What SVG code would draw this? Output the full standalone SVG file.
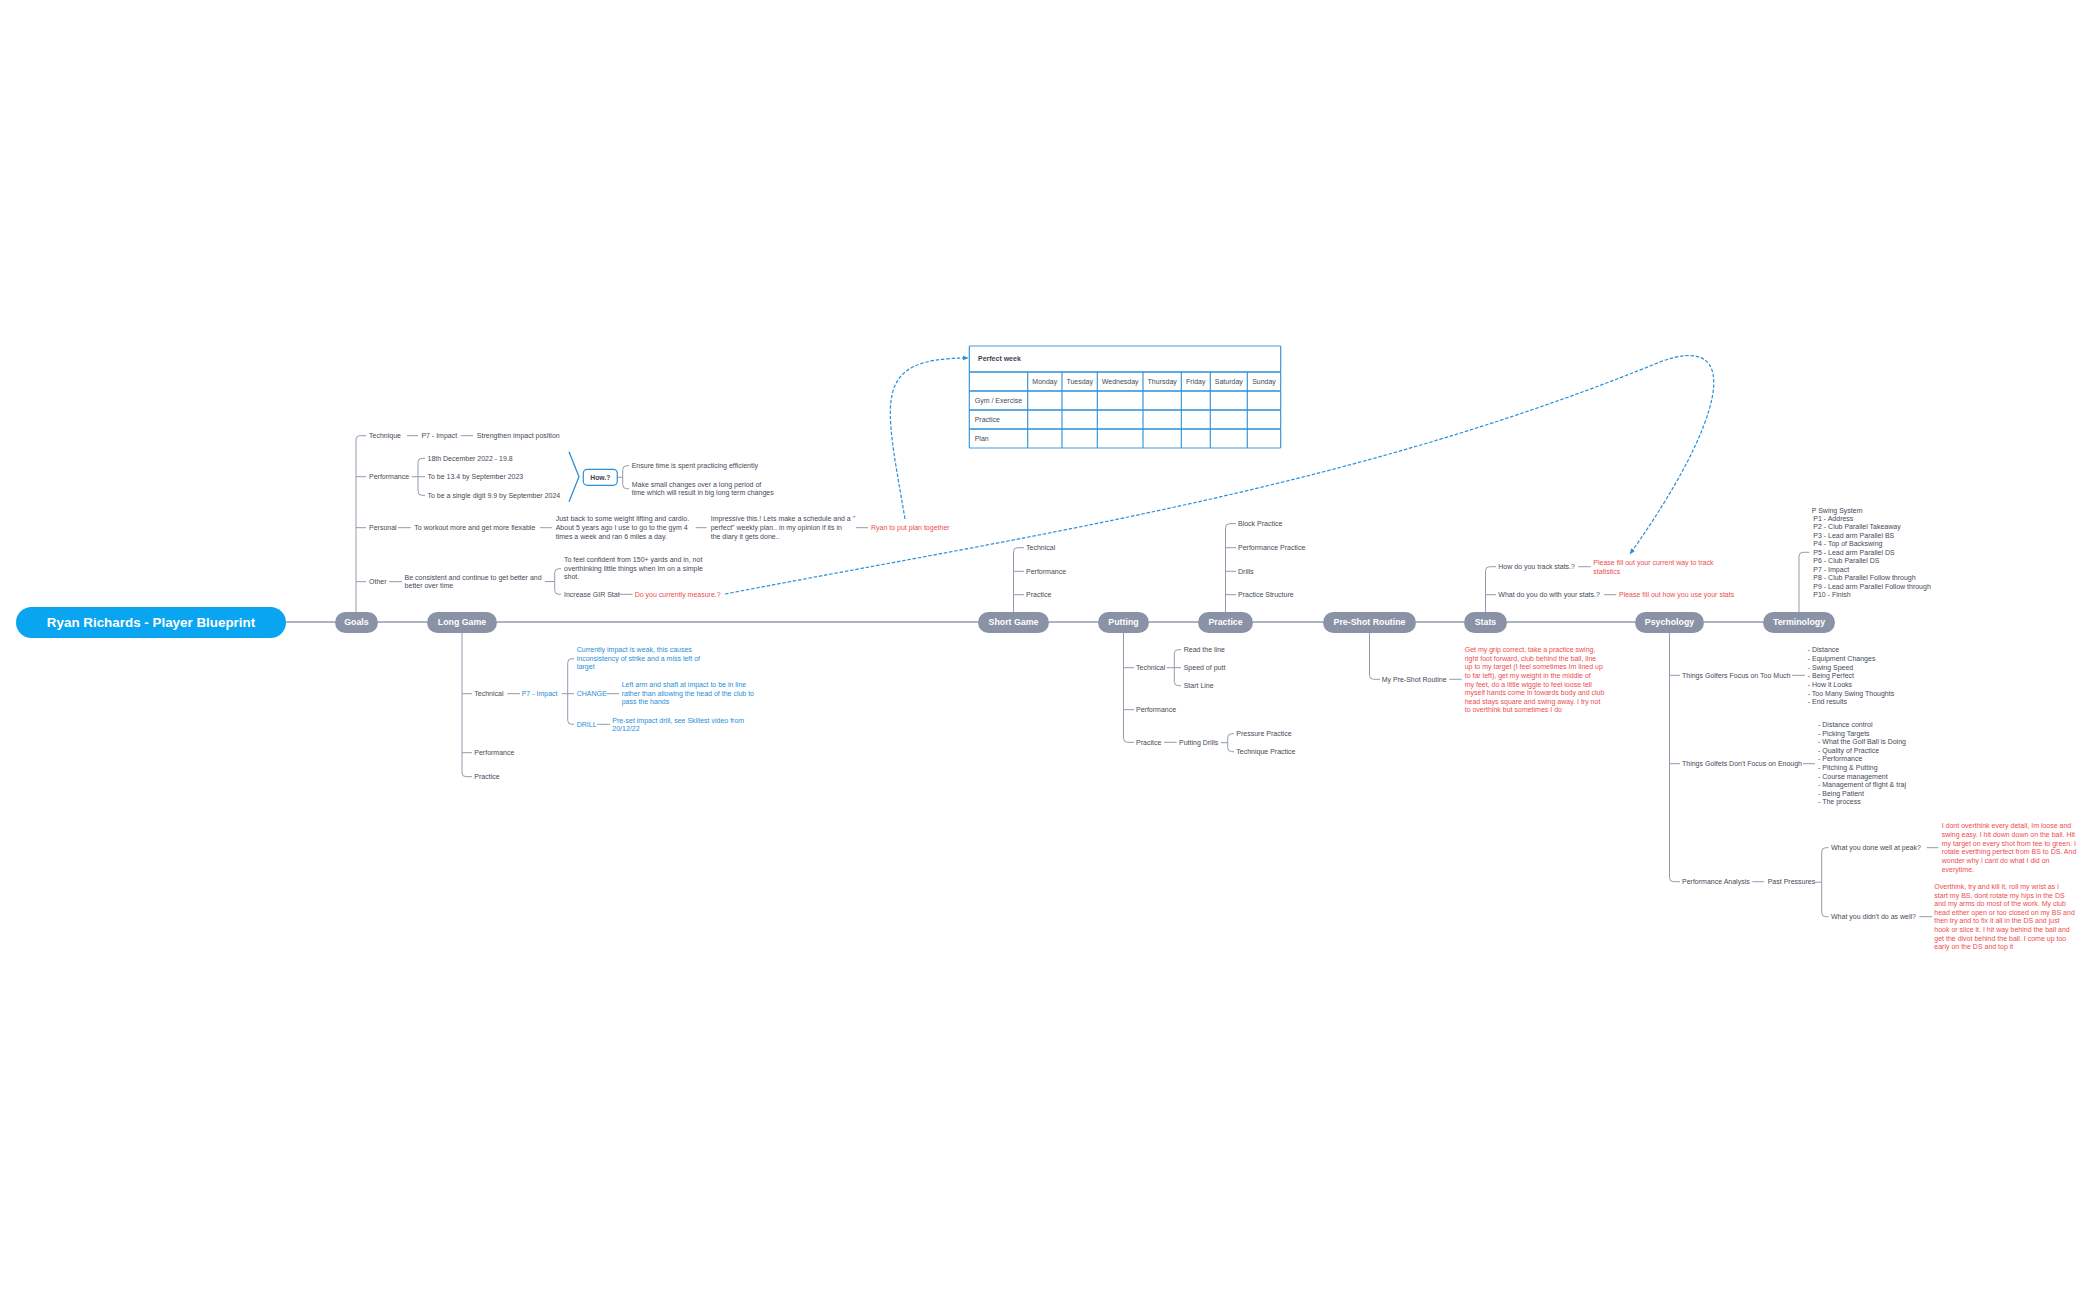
<svg xmlns="http://www.w3.org/2000/svg" width="2100" height="1300" viewBox="0 0 2100 1300">
<defs>
<style>
.t{font-family:"Liberation Sans",Arial,sans-serif;font-size:7px;fill:#454a57}
.r{fill:#ef4b50}
.b{fill:#1f8ed8}
.n rect{fill:#8a92a5}
.n text{font-family:"Liberation Sans",Arial,sans-serif;font-weight:bold;font-size:8.8px;fill:#fff;text-anchor:middle}
.ln{fill:none;stroke:#939bad;stroke-width:1}
.mn{fill:none;stroke:#939bad;stroke-width:1.4}
.bl{fill:none;stroke:#2a8fd9;stroke-width:1.3}
.ds{fill:none;stroke:#2a8fd9;stroke-width:1.2;stroke-dasharray:3.5 1.8}
.tb{fill:none;stroke:#2b8fd8;stroke-width:1.1}
.th{fill:none;stroke:#2b8fd8;stroke-width:1.7}
.tl{fill:none;stroke:#7fc0ee;stroke-width:1.7}
.c{text-anchor:middle}
</style>
<marker id="ar" viewBox="0 0 10 10" refX="9" refY="5" markerWidth="6" markerHeight="6" markerUnits="userSpaceOnUse" orient="auto">
<path d="M0,1 L10,5 L0,9 z" fill="#2a8fd9"/>
</marker>
</defs>
<rect width="2100" height="1300" fill="#fff"/>

<g id="connectors">
<path class="mn" d="M286,622 H335 M378,622 H427 M497,622 H978 M1049,622 H1098 M1149,622 H1198 M1253,622 H1323 M1416,622 H1464 M1507,622 H1635 M1704,622 H1763"/>
<!-- Goals -->
<path class="ln" d="M356,612 V440 Q356,435.7 360.3,435.7 H366 M356,476.7 H366 M356,527.7 H366 M356,581.7 H366"/>
<path class="ln" d="M407,435.7 H418 M460.7,435.7 H473"/>
<path class="ln" d="M411.8,476.7 H425 M425,458.3 H422 Q418,458.3 418,462.3 V491.3 Q418,495.3 422,495.3 H425"/>
<path class="ln" d="M398,527.7 H410.7 M540,527.7 H551.8 M695.7,527.7 H706.7 M856,527.7 H868"/>
<path class="ln" d="M389,581.7 H402 M545,581.5 H554.7 M561,568.7 H558.7 Q554.7,568.7 554.7,572.7 V590.3 Q554.7,594.3 558.7,594.3 H561 M619,594.3 H632.7"/>
<path class="bl" d="M569,451.7 L579,476.7 L569,501.7"/>
<path class="ln" d="M617.3,477.3 H622.7 M629,465.7 H626.7 Q622.7,465.7 622.7,469.7 V484.7 Q622.7,488.7 626.7,488.7 H629"/>
<!-- Long Game -->
<path class="ln" d="M462,633 V772.7 Q462,776.7 466,776.7 H472 M462,693.7 H472 M462,752.7 H472"/>
<path class="ln" d="M507.3,693.7 H520 M561.7,693.7 H574 M574,658.7 H571.7 Q567.7,658.7 567.7,662.7 V720.3 Q567.7,724.3 571.7,724.3 H574"/>
<path class="ln" d="M606.7,693.7 H619 M597,724.3 H610"/>
<!-- Short Game -->
<path class="ln" d="M1013.5,612 V551.7 Q1013.5,547.7 1017.5,547.7 H1024 M1013.5,571.3 H1024 M1013.5,594.7 H1024"/>
<!-- Putting -->
<path class="ln" d="M1123.5,633 V738.3 Q1123.5,742.3 1127.5,742.3 H1134 M1123.5,667.7 H1134 M1123.5,709.7 H1134"/>
<path class="ln" d="M1166.7,667.7 H1181 M1181,649.7 H1178.3 Q1174.3,649.7 1174.3,653.7 V681.7 Q1174.3,685.7 1178.3,685.7 H1181"/>
<path class="ln" d="M1164,742.3 H1176.7 M1220.7,742.7 H1227.7 M1234,733.7 H1231.7 Q1227.7,733.7 1227.7,737.7 V747.7 Q1227.7,751.7 1231.7,751.7 H1234"/>
<!-- Practice -->
<path class="ln" d="M1225.5,612 V527.7 Q1225.5,523.7 1229.5,523.7 H1236 M1225.5,547.7 H1236 M1225.5,571.3 H1236 M1225.5,594.7 H1236"/>
<!-- Pre-Shot -->
<path class="ln" d="M1369.5,633 V675.3 Q1369.5,679.3 1373.5,679.3 H1380 M1449.3,679.3 H1461.7"/>
<!-- Stats -->
<path class="ln" d="M1485.5,612 V570.7 Q1485.5,566.7 1489.5,566.7 H1496 M1485.5,594.7 H1496 M1578.3,566.7 H1590.7 M1604,594.7 H1616"/>
<!-- Psychology -->
<path class="ln" d="M1669.5,633 V877.7 Q1669.5,881.7 1673.5,881.7 H1680 M1669.5,675.3 H1680 M1669.5,763.7 H1680"/>
<path class="ln" d="M1792,675.3 H1805 M1802.7,763.7 H1815 M1752.3,881.7 H1764"/>
<path class="ln" d="M1815,882.2 H1821.7 M1828.5,847.7 H1825.7 Q1821.7,847.7 1821.7,851.7 V912.7 Q1821.7,916.7 1825.7,916.7 H1828.5 M1926.7,847.7 H1938.3 M1919.3,916.7 H1932"/>
<!-- Terminology -->
<path class="ln" d="M1799,612 V556.3 Q1799,552.3 1803,552.3 H1809.3"/>
<!-- dashed relationships -->
<path class="ds" d="M905,519 C885,400 870,358 968,358" marker-end="url(#ar)"/>
<path class="ds" d="M725,594 C1037,534 1348,489 1660,362 C1745,330 1725,420 1630,554" marker-end="url(#ar)"/>
</g>

<g id="root">
<rect x="16" y="607" width="270" height="31" rx="15.5" fill="#0aa5f0"/>
<text x="151" y="626.8" text-anchor="middle" style="font-family:'Liberation Sans',Arial,sans-serif;font-weight:bold;font-size:13.4px;fill:#fff">Ryan Richards - Player Blueprint</text>
</g>

<g id="goals" class="n"><rect x="335" y="612" width="43" height="21" rx="10.5"/><text x="356.5" y="625.1">Goals</text></g>
<g id="long-game" class="n"><rect x="427" y="612" width="70" height="21" rx="10.5"/><text x="462" y="625.1">Long Game</text></g>
<g id="short-game" class="n"><rect x="978" y="612" width="71" height="21" rx="10.5"/><text x="1013.5" y="625.1">Short Game</text></g>
<g id="putting" class="n"><rect x="1098" y="612" width="51" height="21" rx="10.5"/><text x="1123.5" y="625.1">Putting</text></g>
<g id="practice" class="n"><rect x="1198" y="612" width="55" height="21" rx="10.5"/><text x="1225.5" y="625.1">Practice</text></g>
<g id="pre-shot" class="n"><rect x="1323" y="612" width="93" height="21" rx="10.5"/><text x="1369.5" y="625.1">Pre-Shot Routine</text></g>
<g id="stats" class="n"><rect x="1464" y="612" width="43" height="21" rx="10.5"/><text x="1485.5" y="625.1">Stats</text></g>
<g id="psychology" class="n"><rect x="1635" y="612" width="69" height="21" rx="10.5"/><text x="1669.5" y="625.1">Psychology</text></g>
<g id="terminology" class="n"><rect x="1763" y="612" width="72" height="21" rx="10.5"/><text x="1799" y="625.1">Terminology</text></g>

<g id="goals-topics">
<text class="t" x="369" y="438.2">Technique</text>
<text class="t" x="421.4" y="438.2">P7 - Impact</text>
<text class="t" x="476.8" y="438.2">Strengthen impact position</text>
<text class="t" x="369" y="479.2">Performance</text>
<text class="t" x="427.5" y="460.8">18th December 2022 - 19.8</text>
<text class="t" x="427.5" y="479.2">To be 13.4 by September 2023</text>
<text class="t" x="427.5" y="497.8">To be a single digit 9.9 by September 2024</text>
<text class="t" x="369" y="530.2">Personal</text>
<text class="t" x="414.3" y="530.2">To workout more and get more flexable</text>
<text class="t" x="555.7" y="521.2"><tspan x="555.7">Just back to some weight lifting and cardio.</tspan><tspan x="555.7" dy="8.8">About 5 years ago I use to go to the gym 4</tspan><tspan x="555.7" dy="8.6">times a week and ran 6 miles a day.</tspan></text>
<text class="t" x="710.7" y="521.2"><tspan x="710.7">Impressive this.! Lets make a schedule and a "</tspan><tspan x="710.7" dy="8.8">perfect" weekly plan.. in my opinion if its in</tspan><tspan x="710.7" dy="8.6">the diary it gets done..</tspan></text>
<text class="t r" x="871" y="530.2">Ryan to put plan together</text>
<text class="t" x="369" y="584.2">Other</text>
<text class="t" x="404.6" y="580.2"><tspan x="404.6">Be consistent and continue to get better and</tspan><tspan x="404.6" dy="8.2">better over time</tspan></text>
<text class="t" x="564" y="562.2"><tspan x="564">To feel confident from 150+ yards and in, not</tspan><tspan x="564" dy="8.8">overthinking little things when Im on a simple</tspan><tspan x="564" dy="8.4">shot.</tspan></text>
<text class="t" x="564" y="596.8">Increase GIR Stat</text>
<text class="t r" x="634.7" y="596.8">Do you currently measure.?</text>
</g>

<g id="how">
<rect x="583.3" y="469.3" width="34" height="16" rx="4" fill="#fff" stroke="#2a8fd9" stroke-width="1.2"/>
<text x="600.3" y="479.8" text-anchor="middle" style="font-family:'Liberation Sans',Arial,sans-serif;font-weight:bold;font-size:6.8px;fill:#3e4352">How.?</text>
<text class="t" x="631.7" y="468.2">Ensure time is spent practicing efficiently</text>
<text class="t" x="631.7" y="487.2"><tspan x="631.7">Make small changes over a long period of</tspan><tspan x="631.7" dy="8.2">time which will result in big long term changes</tspan></text>
</g>

<g id="perfect-week">
<rect x="969.3" y="346" width="311.4" height="102" fill="#fff"/>
<path class="tl" d="M969.3,346 H1280.7 M969.3,448 H1280.7"/>
<path class="th" d="M969.3,372 H1280.7 M969.3,391 H1280.7 M969.3,410 H1280.7 M969.3,429 H1280.7"/>
<path class="tb" d="M969.3,346 V448 M1280.7,346 V448 M1027.7,372 V448 M1062,372 V448 M1097.3,372 V448 M1143,372 V448 M1181.3,372 V448 M1210.3,372 V448 M1247.3,372 V448"/>
<text x="978" y="361.2" style="font-family:'Liberation Sans',Arial,sans-serif;font-weight:bold;font-size:7px;fill:#3e4352">Perfect week</text>
<text class="t c" x="1044.8" y="384.2">Monday</text>
<text class="t c" x="1079.7" y="384.2">Tuesday</text>
<text class="t c" x="1120.2" y="384.2">Wednesday</text>
<text class="t c" x="1162.2" y="384.2">Thursday</text>
<text class="t c" x="1195.8" y="384.2">Friday</text>
<text class="t c" x="1228.8" y="384.2">Saturday</text>
<text class="t c" x="1264" y="384.2">Sunday</text>
<text class="t" x="974.7" y="403.2">Gym / Exercise</text>
<text class="t" x="974.7" y="422.2">Practice</text>
<text class="t" x="974.7" y="441.2">Plan</text>
</g>

<g id="long-game-topics">
<text class="t" x="474.3" y="696.2">Technical</text>
<text class="t b" x="521.7" y="696.2">P7 - Impact</text>
<text class="t b" x="576.7" y="652.2"><tspan x="576.7">Currently impact is weak, this causes</tspan><tspan x="576.7" dy="9">inconsistency of strike and a miss left of</tspan><tspan x="576.7" dy="8">target</tspan></text>
<text class="t b" x="576.7" y="696.2">CHANGE</text>
<text class="t b" x="621.7" y="687.2"><tspan x="621.7">Left arm and shaft at impact to be in line</tspan><tspan x="621.7" dy="9">rather than allowing the head of the club to</tspan><tspan x="621.7" dy="8">pass the hands</tspan></text>
<text class="t b" x="576.7" y="726.8">DRILL</text>
<text class="t b" x="612.3" y="722.8"><tspan x="612.3">Pre-set impact drill, see Skillest video from</tspan><tspan x="612.3" dy="8.4">20/12/22</tspan></text>
<text class="t" x="474.3" y="755.2">Performance</text>
<text class="t" x="474.3" y="779.2">Practice</text>
</g>

<g id="short-game-topics">
<text class="t" x="1026" y="550.2">Technical</text>
<text class="t" x="1026" y="573.8">Performance</text>
<text class="t" x="1026" y="597.2">Practice</text>
</g>

<g id="putting-topics">
<text class="t" x="1136" y="670.2">Technical</text>
<text class="t" x="1183.7" y="652.2">Read the line</text>
<text class="t" x="1183.7" y="670.2">Speed of putt</text>
<text class="t" x="1183.7" y="688.2">Start Line</text>
<text class="t" x="1136" y="712.2">Performance</text>
<text class="t" x="1136" y="744.8">Pracitce</text>
<text class="t" x="1179" y="744.8">Putting Drills</text>
<text class="t" x="1236.3" y="736.2">Pressure Practice</text>
<text class="t" x="1236.3" y="754.2">Technique Practice</text>
</g>

<g id="practice-topics">
<text class="t" x="1238" y="526.2">Block Practice</text>
<text class="t" x="1238" y="550.2">Performance Practice</text>
<text class="t" x="1238" y="573.8">Drills</text>
<text class="t" x="1238" y="597.2">Practice Structure</text>
</g>

<g id="pre-shot-topics">
<text class="t" x="1381.7" y="681.8">My Pre-Shot Routine</text>
<text class="t r" x="1464.7" y="652.2"><tspan x="1464.7">Get my grip correct, take a practice swing,</tspan><tspan x="1464.7" dy="8.6">right foot forward, club behind the ball, line</tspan><tspan x="1464.7" dy="8.6">up to my target (I feel sometimes Im lined up</tspan><tspan x="1464.7" dy="8.6">to far left), get my weight in the middle of</tspan><tspan x="1464.7" dy="8.6">my feet, do a little wiggle to feel loose  tell</tspan><tspan x="1464.7" dy="8.6">myself hands come in towards body and club</tspan><tspan x="1464.7" dy="8.6">head stays square and swing away. I try not</tspan><tspan x="1464.7" dy="8.6">to overthink but sometimes I do</tspan></text>
</g>

<g id="stats-topics">
<text class="t" x="1498.3" y="569.2">How do you track stats.?</text>
<text class="t r" x="1593.3" y="565.2"><tspan x="1593.3">Please fill out your current way to track</tspan><tspan x="1593.3" dy="9">statistics</tspan></text>
<text class="t" x="1498.3" y="597.2">What do you do with your stats.?</text>
<text class="t r" x="1619" y="597.2">Please fill out how you use your stats</text>
</g>

<g id="psychology-topics">
<text class="t" x="1682" y="677.8">Things Golfers Focus on Too Much</text>
<text class="t" x="1807.7" y="652.2"><tspan x="1807.7">- Distance</tspan><tspan x="1807.7" dy="8.67">- Equipment Changes</tspan><tspan x="1807.7" dy="8.67">- Swing Speed</tspan><tspan x="1807.7" dy="8.67">- Being Perfect</tspan><tspan x="1807.7" dy="8.67">- How it Looks</tspan><tspan x="1807.7" dy="8.67">- Too Many Swing Thoughts</tspan><tspan x="1807.7" dy="8.67">- End results</tspan></text>
<text class="t" x="1682" y="766.2">Things Golfets Don't Focus on Enough</text>
<text class="t" x="1818" y="727.2"><tspan x="1818">- Distance control</tspan><tspan x="1818" dy="8.56">- Picking Targets</tspan><tspan x="1818" dy="8.56">- What the Golf Ball is Doing</tspan><tspan x="1818" dy="8.56">- Quality of Practice</tspan><tspan x="1818" dy="8.56">- Performance</tspan><tspan x="1818" dy="8.56">- Pitching &amp; Putting</tspan><tspan x="1818" dy="8.56">- Course management</tspan><tspan x="1818" dy="8.56">- Management of flight &amp; traj</tspan><tspan x="1818" dy="8.56">- Being Patient</tspan><tspan x="1818" dy="8.56">- The process</tspan></text>
<text class="t" x="1682" y="884.2">Performance Analysis</text>
<text class="t" x="1767.7" y="884.2">Past Pressures</text>
<text class="t" x="1831" y="850.2">What you done well at peak?</text>
<text class="t r" x="1941.7" y="828.2"><tspan x="1941.7">I dont overthink every detail, Im loose and</tspan><tspan x="1941.7" dy="8.66">swing easy. I hit down down on the ball. Hit</tspan><tspan x="1941.7" dy="8.66">my target on every shot from tee to green. I</tspan><tspan x="1941.7" dy="8.66">rotate everthing perfect from BS to DS.  And</tspan><tspan x="1941.7" dy="8.66">wonder why I cant do what I did on</tspan><tspan x="1941.7" dy="8.66">everytime.</tspan></text>
<text class="t" x="1831" y="919.2">What you didn't do as well?</text>
<text class="t r" x="1934.3" y="889.2"><tspan x="1934.3">Overthink, try and kill it, roll my wrist as i</tspan><tspan x="1934.3" dy="8.57">start my BS, dont rotate my hips in the DS</tspan><tspan x="1934.3" dy="8.57">and my arms do most of the work. My club</tspan><tspan x="1934.3" dy="8.57">head either open or too closed on my BS and</tspan><tspan x="1934.3" dy="8.57">then try and to fix it all in the DS and just</tspan><tspan x="1934.3" dy="8.57">hook or slice it. I hit way behind the ball and</tspan><tspan x="1934.3" dy="8.57">get the divot behind the ball. I come up too</tspan><tspan x="1934.3" dy="8.57">early on the DS and top it</tspan></text>
</g>

<g id="terminology-topics">
<text class="t" x="1811.7" y="512.5"><tspan x="1811.7">P Swing System</tspan><tspan x="1813.3" dy="8.45">P1 - Address</tspan><tspan x="1813.3" dy="8.45">P2 - Club Parallel Takeaway</tspan><tspan x="1813.3" dy="8.45">P3 - Lead arm Parallel BS</tspan><tspan x="1813.3" dy="8.45">P4 - Top of Backswing</tspan><tspan x="1813.3" dy="8.45">P5 - Lead arm Parallel DS</tspan><tspan x="1813.3" dy="8.45">P6 - Club Parallel DS</tspan><tspan x="1813.3" dy="8.45">P7 - Impact</tspan><tspan x="1813.3" dy="8.45">P8 - Club Parallel Follow through</tspan><tspan x="1813.3" dy="8.45">P9 - Lead arm Parallel Follow through</tspan><tspan x="1813.3" dy="8.45">P10 - Finish</tspan></text>
</g>
</svg>
